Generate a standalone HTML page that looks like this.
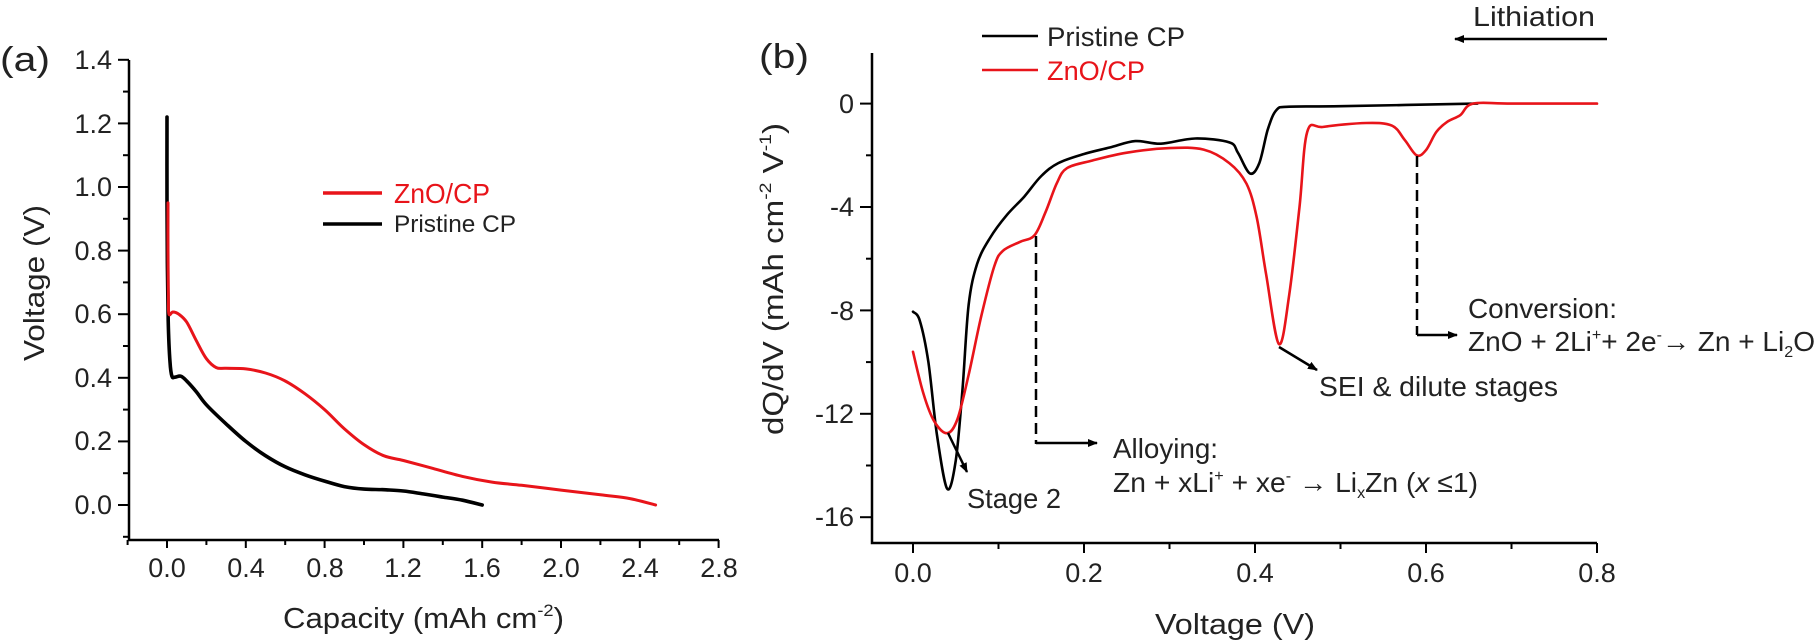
<!DOCTYPE html>
<html><head><meta charset="utf-8"><style>
html,body{margin:0;padding:0;background:#fff;}
svg{display:block;font-family:"Liberation Sans",Arial,sans-serif;}
</style></head><body>
<svg id="s" width="1820" height="644" viewBox="0 0 1820 644" xmlns="http://www.w3.org/2000/svg">
<defs>
<marker id="ar" markerWidth="10" markerHeight="10" refX="9" refY="5" orient="auto" markerUnits="userSpaceOnUse"><path d="M0,1 L10,5 L0,9 z" fill="#000"/></marker>
</defs>
<g id="axes" stroke="#000" stroke-width="2.5" fill="none">
<path d="M129,60 L129,540 L719,540"/>
<path d="M872,53 L872,543 L1597,543"/>
</g>
<g id="ticks" stroke="#000" stroke-width="2"></g>
<g id="curves" fill="none" stroke-linejoin="round" stroke-linecap="round"></g>

<g font-size="27" fill="#222">
<text x="112" y="69" text-anchor="end">1.4</text>
<text x="112" y="133" text-anchor="end">1.2</text>
<text x="112" y="196" text-anchor="end">1.0</text>
<text x="112" y="260" text-anchor="end">0.8</text>
<text x="112" y="323" text-anchor="end">0.6</text>
<text x="112" y="387" text-anchor="end">0.4</text>
<text x="112" y="450" text-anchor="end">0.2</text>
<text x="112" y="514" text-anchor="end">0.0</text>
<g text-anchor="middle">
<text x="167" y="577">0.0</text><text x="246" y="577">0.4</text><text x="325" y="577">0.8</text>
<text x="403" y="577">1.2</text><text x="482" y="577">1.6</text><text x="561" y="577">2.0</text>
<text x="640" y="577">2.4</text><text x="719" y="577">2.8</text>
</g>
<text x="854" y="113" text-anchor="end">0</text>
<text x="854" y="216" text-anchor="end">-4</text>
<text x="854" y="320" text-anchor="end">-8</text>
<text x="854" y="423" text-anchor="end">-12</text>
<text x="854" y="526" text-anchor="end">-16</text>
<g text-anchor="middle">
<text x="913" y="582">0.0</text><text x="1084" y="582">0.2</text><text x="1255" y="582">0.4</text>
<text x="1426" y="582">0.6</text><text x="1597" y="582">0.8</text>
</g>
</g>

<g font-size="29" fill="#222">
<text x="283" y="628" textLength="281" lengthAdjust="spacingAndGlyphs">Capacity (mAh cm<tspan font-size="17" dy="-12">-2</tspan><tspan dy="12">)</tspan></text>
<text transform="translate(44,283) rotate(-90)" text-anchor="middle" textLength="156" lengthAdjust="spacingAndGlyphs">Voltage (V)</text>
<text x="1155" y="634" textLength="160" lengthAdjust="spacingAndGlyphs">Voltage (V)</text>
<text transform="translate(783,279) rotate(-90)" text-anchor="middle" textLength="312" lengthAdjust="spacingAndGlyphs">dQ/dV (mAh cm<tspan font-size="17" dy="-12">-2</tspan><tspan dy="12"> V</tspan><tspan font-size="17" dy="-12">-1</tspan><tspan dy="12">)</tspan></text>
<text x="0" y="71" font-size="34" textLength="50" lengthAdjust="spacingAndGlyphs">(a)</text>
<text x="759" y="68" font-size="34" textLength="50" lengthAdjust="spacingAndGlyphs">(b)</text>
</g>

<line x1="323" y1="193" x2="382" y2="193" stroke="#e8141a" stroke-width="3.5"/>
<line x1="323" y1="224" x2="382" y2="224" stroke="#000" stroke-width="3.5"/>
<text x="394" y="203" font-size="28" fill="#e8141a" textLength="96" lengthAdjust="spacingAndGlyphs">ZnO/CP</text>
<text x="394" y="232" font-size="24" fill="#222" textLength="122" lengthAdjust="spacingAndGlyphs">Pristine CP</text>

<line x1="982" y1="36" x2="1038" y2="36" stroke="#000" stroke-width="2.5"/>
<line x1="982" y1="70" x2="1038" y2="70" stroke="#e8141a" stroke-width="2.5"/>
<text x="1047" y="46" font-size="27" fill="#222" textLength="138" lengthAdjust="spacingAndGlyphs">Pristine CP</text>
<text x="1047" y="80" font-size="27" fill="#e8141a" textLength="98" lengthAdjust="spacingAndGlyphs">ZnO/CP</text>

<text x="1473" y="26" font-size="28" fill="#222" textLength="122" lengthAdjust="spacingAndGlyphs">Lithiation</text>
<line x1="1607" y1="39" x2="1455" y2="39" stroke="#000" stroke-width="2.5" marker-end="url(#ar)"/>

<g stroke="#000" stroke-width="2.5" fill="none">
<path d="M1036,236 L1036,444" stroke-dasharray="11,6"/>
<line x1="1036" y1="443" x2="1097" y2="443" marker-end="url(#ar)"/>
<path d="M1417,156 L1417,335" stroke-dasharray="11,6"/>
<line x1="1417" y1="335" x2="1457" y2="335" marker-end="url(#ar)"/>
<line x1="1279" y1="347" x2="1317" y2="370" marker-end="url(#ar)"/>
<line x1="948" y1="433" x2="967" y2="472" marker-end="url(#ar)"/>
</g>
<g font-size="28" fill="#222">
<text x="1113" y="458" textLength="105" lengthAdjust="spacingAndGlyphs">Alloying:</text>
<text x="1113" y="492" textLength="365" lengthAdjust="spacingAndGlyphs">Zn + xLi<tspan font-size="16" dy="-11">+</tspan><tspan dy="11"> + xe</tspan><tspan font-size="16" dy="-11">-</tspan><tspan dy="11"> → Li</tspan><tspan font-size="16" dy="6">x</tspan><tspan dy="-6">Zn (</tspan><tspan font-style="italic">x</tspan> ≤1)</text>
<text x="967" y="508" textLength="94" lengthAdjust="spacingAndGlyphs">Stage 2</text>
<text x="1319" y="396" textLength="239" lengthAdjust="spacingAndGlyphs">SEI &amp; dilute stages</text>
<text x="1468" y="318" textLength="149" lengthAdjust="spacingAndGlyphs">Conversion:</text>
<text x="1468" y="351" textLength="347" lengthAdjust="spacingAndGlyphs">ZnO + 2Li<tspan font-size="16" dy="-11">+</tspan><tspan dy="11">+ 2e</tspan><tspan font-size="16" dy="-11">-</tspan><tspan dy="11">→ Zn + Li</tspan><tspan font-size="16" dy="6">2</tspan><tspan dy="-6">O</tspan></text>
</g>
</svg>
<script>
(function(){
var NS="http://www.w3.org/2000/svg";
var ticks=document.getElementById('ticks'),curves=document.getElementById('curves');
function L(x1,y1,x2,y2){var l=document.createElementNS(NS,'line');l.setAttribute('x1',x1);l.setAttribute('y1',y1);l.setAttribute('x2',x2);l.setAttribute('y2',y2);ticks.appendChild(l);}
var ay=function(v){return 505-318*v;}, ax=function(c){return 167+197*c;};
for(var i=0;i<=14;i++){var v=i*0.1;L(129,ay(v),i%2?123:118,ay(v));}
L(129,ay(-0.1),123,ay(-0.1));
for(var i=-1;i<=14;i++){var c=i*0.2;L(ax(c),540,ax(c),i%2?545:548);}
var bx=function(v){return 913+855*v;}, by=function(d){return 103.6-25.85*d;};
for(var d=0;d>=-16;d-=2){L(872,by(d),d%4?866:860,by(d));}
for(var i=0;i<=8;i++){L(bx(i*0.1),543,bx(i*0.1),i%2?549:553);}
function path(pts,fx,fy,color,w){
 var P=pts.map(function(p){return [fx(p[0]),fy(p[1])];});
 var d="M"+P[0][0].toFixed(1)+","+P[0][1].toFixed(1);
 for(var i=0;i<P.length-1;i++){
  var p0=P[i-1]||P[i],p1=P[i],p2=P[i+1],p3=P[i+2]||P[i+1];
  var c1=[p1[0]+(p2[0]-p0[0])/6,p1[1]+(p2[1]-p0[1])/6],c2=[p2[0]-(p3[0]-p1[0])/6,p2[1]-(p3[1]-p1[1])/6];
  d+=" C"+c1[0].toFixed(1)+","+c1[1].toFixed(1)+" "+c2[0].toFixed(1)+","+c2[1].toFixed(1)+" "+p2[0].toFixed(1)+","+p2[1].toFixed(1);
 }
 var e=document.createElementNS(NS,'path');e.setAttribute('d',d);e.setAttribute('stroke',color);e.setAttribute('stroke-width',w);curves.appendChild(e);
}
var blackA=[[0,1.22],[0,0.95],[0.002,0.75],[0.006,0.58],[0.015,0.45],[0.025,0.405],[0.04,0.402],[0.07,0.405],[0.1,0.39],[0.15,0.355],[0.2,0.315],[0.3,0.255],[0.4,0.2],[0.5,0.155],[0.6,0.12],[0.7,0.095],[0.8,0.075],[0.9,0.058],[1.0,0.05],[1.1,0.048],[1.2,0.044],[1.3,0.035],[1.4,0.025],[1.5,0.015],[1.6,0]];
var redA=[[0.005,0.95],[0.005,0.8],[0.007,0.65],[0.01,0.6],[0.03,0.607],[0.06,0.6],[0.1,0.575],[0.15,0.515],[0.2,0.46],[0.25,0.432],[0.3,0.43],[0.4,0.428],[0.5,0.415],[0.6,0.39],[0.7,0.35],[0.8,0.3],[0.9,0.24],[1.0,0.19],[1.1,0.155],[1.2,0.14],[1.35,0.115],[1.5,0.09],[1.65,0.072],[1.8,0.062],[2.0,0.047],[2.2,0.032],[2.35,0.02],[2.48,0.0]];
path(blackA,ax,ay,"#000",3.6);
path(redA,ax,ay,"#e8141a",3);
var blackB=[[0,-8.05],[0.008,-8.4],[0.018,-10],[0.028,-12.8],[0.04,-14.9],[0.05,-13.8],[0.058,-11],[0.065,-7.8],[0.075,-6.2],[0.09,-5.2],[0.11,-4.3],[0.13,-3.6],[0.15,-2.8],[0.17,-2.3],[0.2,-1.95],[0.23,-1.7],[0.26,-1.45],[0.29,-1.55],[0.33,-1.35],[0.37,-1.5],[0.38,-1.9],[0.394,-2.7],[0.405,-2.3],[0.415,-1.0],[0.425,-0.25],[0.44,-0.12],[0.5,-0.1],[0.66,0]];
var redB=[[0,-9.6],[0.012,-11.2],[0.025,-12.3],[0.04,-12.75],[0.052,-12.2],[0.065,-10.5],[0.08,-8.2],[0.095,-6.3],[0.105,-5.7],[0.125,-5.35],[0.142,-5.1],[0.155,-4.2],[0.168,-3.1],[0.18,-2.5],[0.21,-2.2],[0.25,-1.9],[0.3,-1.72],[0.34,-1.78],[0.37,-2.3],[0.39,-3.1],[0.402,-4.4],[0.413,-6.6],[0.428,-9.3],[0.44,-7.4],[0.452,-4],[0.461,-1.1],[0.48,-0.9],[0.53,-0.75],[0.56,-0.85],[0.575,-1.4],[0.589,-2.0],[0.6,-1.8],[0.612,-1.1],[0.625,-0.7],[0.64,-0.45],[0.655,0],[0.7,0],[0.8,0]];
path(blackB,bx,by,"#000",2.6);
path(redB,bx,by,"#e8141a",2.6);
})();
</script>
</body></html>
